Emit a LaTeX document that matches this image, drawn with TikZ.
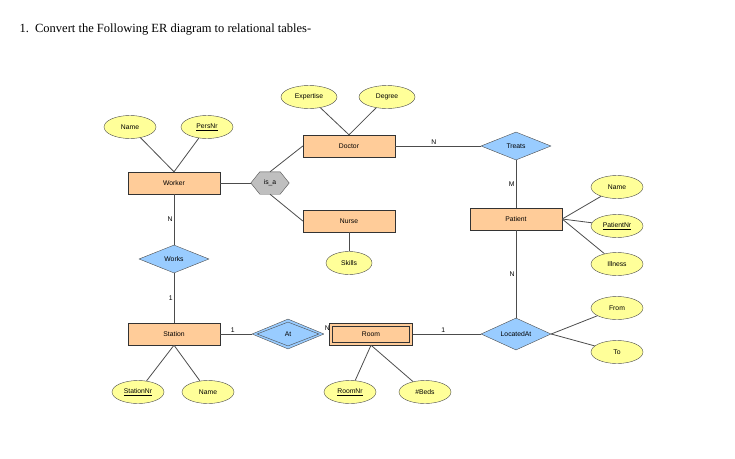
\documentclass[tikz,border=0pt]{standalone}
\usepackage{fontspec}
\setmainfont{Liberation Serif}
\newfontfamily\diag{Liberation Sans}
\usetikzlibrary{shapes.geometric}
\definecolor{attr}{RGB}{255,255,153}
\definecolor{ent}{RGB}{255,204,153}
\definecolor{rel}{RGB}{153,204,255}
\begin{document}
\begin{tikzpicture}[x=1pt,y=-1pt,
  every node/.style={font=\diag\fontsize{6.8}{8}\selectfont},
  attr/.style={ellipse,draw=black!70,fill=attr,minimum width=52,minimum height=23,inner sep=0},
  ent/.style={rectangle,draw=black!80,fill=ent,minimum width=92,minimum height=22,inner sep=0},
  rel/.style={diamond,draw=black!70,fill=rel,aspect=2.7,minimum width=70,minimum height=28,inner sep=0},
  card/.style={font=\diag\fontsize{6.8}{8}\selectfont,inner sep=1pt},
  ln/.style={draw=black!70,line width=0.8pt}]
\useasboundingbox (0,0) rectangle (735,458);
\node[anchor=west,font=\fontsize{12.5}{14}\selectfont] (title) at (16,30) {1.\ \ Convert the Following ER diagram to relational tables-};
% entities
\node[ent] (doctor) at (349,146) {Doctor};
\node[ent] (worker) at (174,183) {Worker};
\node[ent] (nurse) at (349,221) {Nurse};
\node[ent] (patient) at (516,219) {Patient};
\node[ent] (station) at (174,334) {Station};
\node[ent,minimum width=83,minimum height=22] (room) at (371,334) {};
\node[rectangle,draw=black!80,line width=0.8pt,minimum width=77,minimum height=16,inner sep=0] (roomin) at (room) {Room};
% relationships
\node[minimum width=38,minimum height=22,inner sep=0] (isa) at (270,183) {};
\draw[draw=black!70,fill=black!25] (isa.west) -- ([xshift=9]isa.north west) -- ([xshift=-9]isa.north east)
  -- (isa.east) -- ([xshift=-9]isa.south east) -- ([xshift=9]isa.south west) -- cycle;
\node (isalabel) at (isa) {is\_a};
\node[rel] (treats) at (516,146) {Treats};
\node[rel] (works) at (174,259) {Works};
\node[rel,minimum width=72,minimum height=30] (at) at (288,334) {};
\node[diamond,draw=black!70,aspect=2.7,minimum width=62,minimum height=24,inner sep=0] (atin) at (at) {At};
\node[rel,minimum height=32] (located) at (516,334) {LocatedAt};
% attributes
\node[attr] (wname) at (130,127) {Name};
\node[attr] (persnr) at (207,127) {\underline{PersNr}};
\node[attr,minimum width=56] (expertise) at (309,97) {Expertise};
\node[attr,minimum width=56] (degree) at (387,97) {Degree};
\node[attr,minimum width=46] (skills) at (349,263) {Skills};
\node[attr] (pname) at (617,187) {Name};
\node[attr] (patnr) at (617,226) {\underline{PatientNr}};
\node[attr] (illness) at (617,264) {Illness};
\node[attr] (from) at (617,308) {From};
\node[attr] (to) at (617,352) {To};
\node[attr] (stnr) at (138,392) {\underline{StationNr}};
\node[attr] (sname) at (208,392) {Name};
\node[attr] (roomnr) at (350,392) {\underline{RoomNr}};
\node[attr] (beds) at (425,392) {\#Beds};
% connectors
\draw[ln] (wname) -- (worker.north);
\draw[ln] (persnr) -- (worker.north);
\draw[ln] (expertise) -- (doctor.north);
\draw[ln] (degree) -- (doctor.north);
\draw[ln] (worker) -- (isa);
\draw[ln] (isa.north) -- (doctor.west);
\draw[ln] (isa.south) -- (nurse.west);
\draw[ln] (nurse) -- (skills);
\draw[ln] (doctor) -- (treats) node[card,pos=0.45,above] {N};
\draw[ln] (treats) -- (patient) node[card,pos=0.5,left] {M};
\draw[ln] (patient) -- (located) node[card,pos=0.5,left] {N};
\draw[ln] (patient.east) -- (pname);
\draw[ln] (patient.east) -- (patnr);
\draw[ln] (patient.east) -- (illness);
\draw[ln] (worker) -- (works) node[card,pos=0.5,left] {N};
\draw[ln] (works) -- (station) node[card,pos=0.5,left] {1};
\draw[ln] (station) -- (at) node[card,pos=0.4,above] {1};
\draw[ln,double,double distance=1.2pt] (at.east) -- (room.west) node[card,pos=0.6,above=2pt] {N};
\draw[ln] (room) -- (located) node[card,pos=0.45,above] {1};
\draw[ln] (located.east) -- (from);
\draw[ln] (located.east) -- (to);
\draw[ln] (station.south) -- (stnr);
\draw[ln] (station.south) -- (sname);
\draw[ln] (room.south) -- (roomnr);
\draw[ln] (room.south) -- (beds);
\end{tikzpicture}
\end{document}
